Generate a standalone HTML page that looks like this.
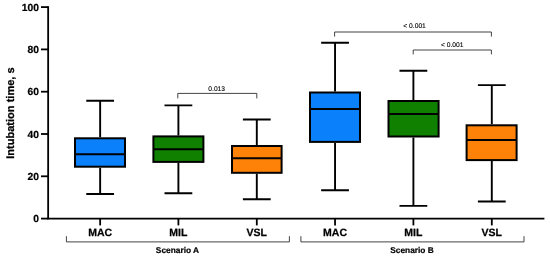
<!DOCTYPE html><html><head><meta charset="utf-8"><title>Intubation time</title><style>html,body{margin:0;padding:0;background:#fff}.t{font-family:"Liberation Sans",sans-serif;text-rendering:geometricPrecision}svg{display:block}</style></head><body><svg width="550" height="257">
<rect width="550" height="257" fill="#fff"/>
<g stroke="#000" stroke-width="1.8" fill="none">
<path d="M48.15 6.2 V219.2"/>
<path d="M47.25 218.6 H544.4"/>
<path d="M41 218.6 H48.15"/>
<path d="M41 176.3 H48.15"/>
<path d="M41 134.0 H48.15"/>
<path d="M41 91.7 H48.15"/>
<path d="M41 49.4 H48.15"/>
<path d="M41 7.1 H48.15"/>
<path d="M100.15 218.6 V225.4"/>
<path d="M178.4 218.6 V225.4"/>
<path d="M256.8 218.6 V225.4"/>
<path d="M335.05 218.6 V225.4"/>
<path d="M413.4 218.6 V225.4"/>
<path d="M491.8 218.6 V225.4"/>
</g>
<g stroke="#000" stroke-width="2.0" fill="none">
<path d="M100.15 100.7 V137.3 M100.15 167.7 V194.0 M86.25 100.7 H114.05 M86.25 194.0 H114.05" stroke-width="1.9"/>
<rect x="75.0" y="138.3" width="50.0" height="28.4" fill="#0a80fa"/>
<path d="M75.0 154.2 H125.0"/>
</g>
<g stroke="#000" stroke-width="2.0" fill="none">
<path d="M178.4 105.4 V135.4 M178.4 162.9 V193.3 M164.5 105.4 H192.3 M164.5 193.3 H192.3" stroke-width="1.9"/>
<rect x="153.4" y="136.4" width="50.0" height="25.5" fill="#108000"/>
<path d="M153.4 149.2 H203.4"/>
</g>
<g stroke="#000" stroke-width="2.0" fill="none">
<path d="M256.8 119.5 V145.0 M256.8 173.8 V199.3 M242.9 119.5 H270.7 M242.9 199.3 H270.7" stroke-width="1.9"/>
<rect x="232.0" y="146.0" width="49.6" height="26.8" fill="#ff8208"/>
<path d="M232.0 158.3 H281.6"/>
</g>
<g stroke="#000" stroke-width="2.0" fill="none">
<path d="M335.05 42.7 V91.5 M335.05 142.9 V190.3 M321.15 42.7 H348.95 M321.15 190.3 H348.95" stroke-width="1.9"/>
<rect x="310.0" y="92.5" width="50.0" height="49.4" fill="#0a80fa"/>
<path d="M310.0 109.1 H360.0"/>
</g>
<g stroke="#000" stroke-width="2.0" fill="none">
<path d="M413.4 70.7 V100 M413.4 137.5 V205.9 M399.5 70.7 H427.3 M399.5 205.9 H427.3" stroke-width="1.9"/>
<rect x="388.5" y="101.0" width="50.1" height="35.5" fill="#108000"/>
<path d="M388.5 114.1 H438.6"/>
</g>
<g stroke="#000" stroke-width="2.0" fill="none">
<path d="M491.8 85.1 V124.3 M491.8 161.1 V201.5 M477.9 85.1 H505.7 M477.9 201.5 H505.7" stroke-width="1.9"/>
<rect x="466.6" y="125.3" width="50.0" height="34.8" fill="#ff8208"/>
<path d="M466.6 140 H516.6"/>
</g>
<g stroke="#222" stroke-width="0.85" fill="none">
<path d="M177.8 98.4 V93.4 H256.8 V98.4"/>
<path d="M334.6 36.6 V32 H491.4 V36.6"/>
<path d="M413.2 54.4 V50 H491.4 V54.4"/>
<path d="M66.4 236.2 V241.9 H289.4 V236.2"/>
<path d="M300.9 236.2 V241.9 H524 V236.2"/>
</g>
<g class="t" fill="#000">
<g font-size="6.7" text-anchor="middle" fill="#000" stroke="#000" stroke-width="0.12">
<text x="216.7" y="90.5">0.013</text>
<text x="414.6" y="27.5">&lt; 0.001</text>
<text x="452.2" y="46.5">&lt; 0.001</text>
</g>
<g font-size="10.3" font-weight="bold" text-anchor="end" stroke="#000" stroke-width="0.2">
<text x="39" y="222.3">0</text>
<text x="39" y="180.0">20</text>
<text x="39" y="137.8">40</text>
<text x="39" y="95.4">60</text>
<text x="39" y="53.1">80</text>
<text x="39" y="10.8">100</text>
</g>
<g font-size="10.5" font-weight="bold" text-anchor="middle" stroke="#000" stroke-width="0.25">
<text x="100.15" y="236.3">MAC</text>
<text x="178.4" y="236.3">MIL</text>
<text x="256.8" y="236.3">VSL</text>
<text x="335.05" y="236.3">MAC</text>
<text x="413.4" y="236.3">MIL</text>
<text x="491.8" y="236.3">VSL</text>
</g>
<g font-size="8.35" font-weight="bold" text-anchor="middle" stroke="#000" stroke-width="0.2">
<text x="177.5" y="252.9">Scenario A</text>
<text x="412" y="252.9">Scenario B</text>
</g>
<text font-size="11.05" font-weight="bold" text-anchor="middle" stroke="#000" stroke-width="0.25" transform="translate(14.2 113.1) rotate(-90)">Intubation time, s</text>
</g>
</svg></body></html>
